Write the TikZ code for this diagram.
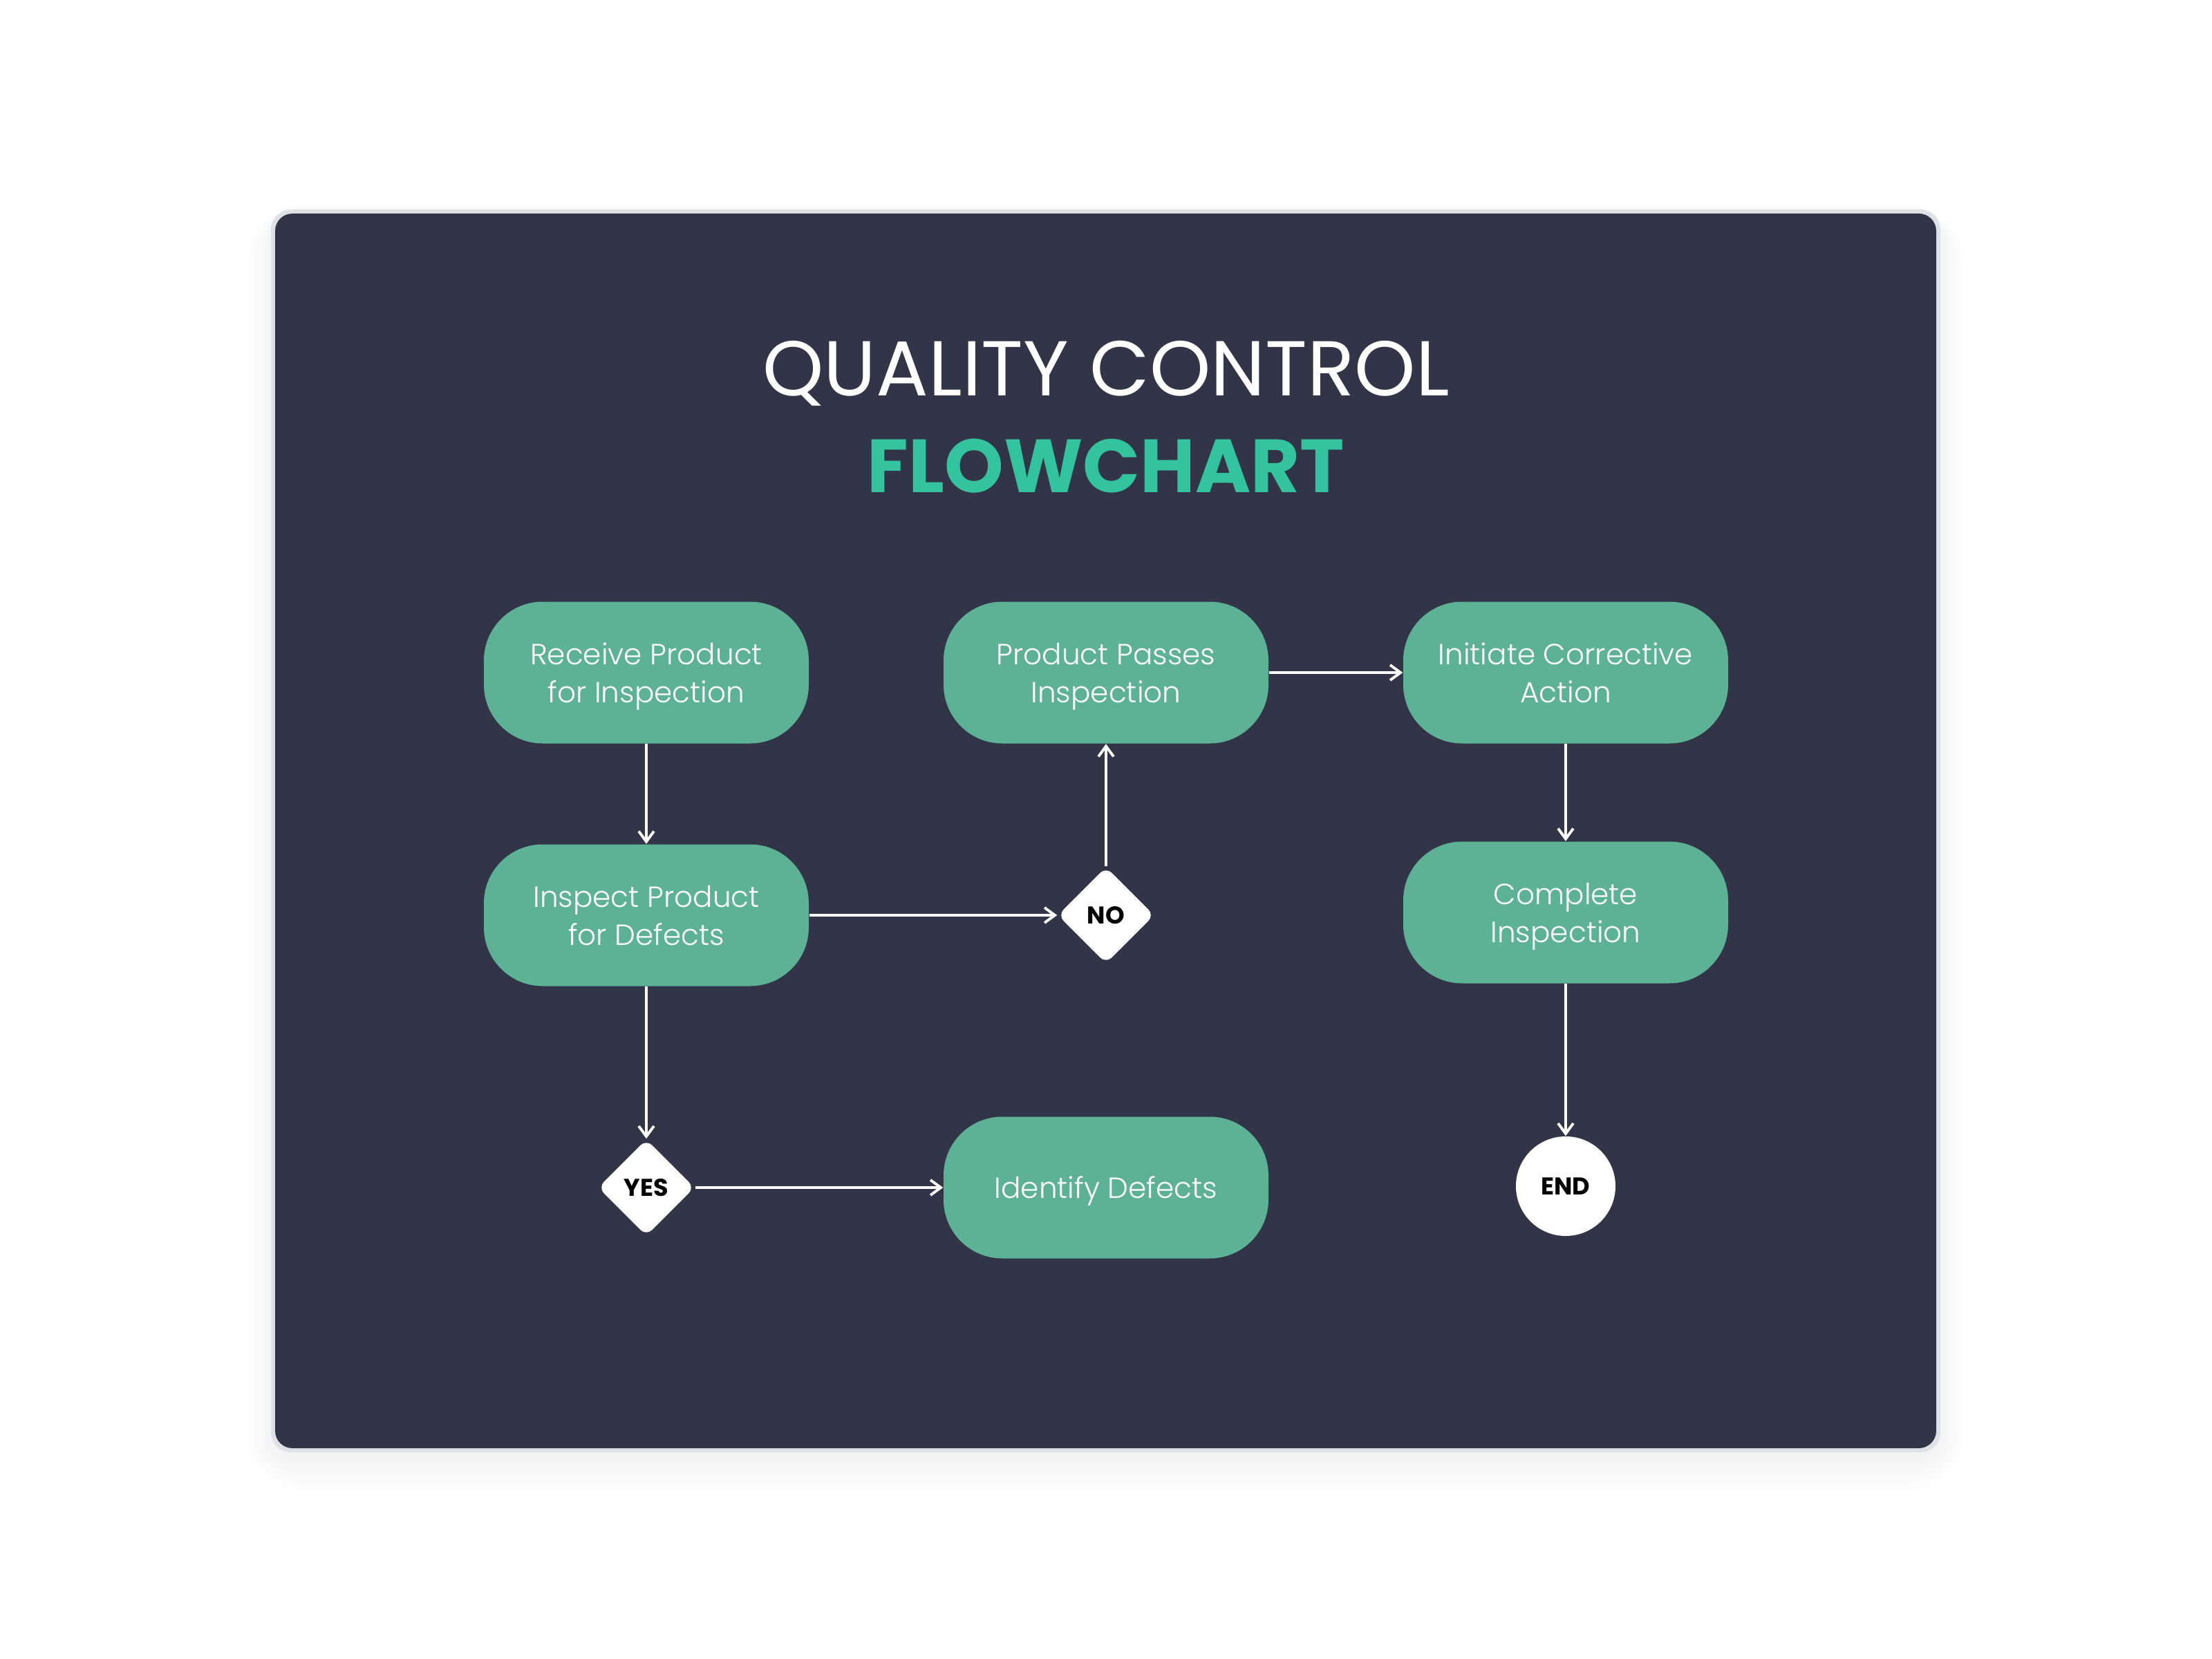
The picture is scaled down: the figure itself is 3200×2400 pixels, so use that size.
\documentclass[tikz,border=0pt]{standalone}
\usepackage{fontspec}
\setmainfont{Poppins}
\newfontfamily\lightfont{Poppins Light}
\usetikzlibrary{arrows.meta,shapes.geometric}
\definecolor{cardbg}{HTML}{323548}
\definecolor{boxfill}{HTML}{5DB296}
\definecolor{titleteal}{HTML}{33C49F}
\definecolor{cardline}{HTML}{E0E1E4}
\begin{document}
\begin{tikzpicture}[x=0.1mm,y=-0.1mm,
  proc/.style={rectangle, fill=boxfill, minimum width=47mm, minimum height=20.5mm, rounded corners=8.5mm, text=white, font=\lightfont\fontsize{12}{15.6}\selectfont, align=center, inner sep=0pt, text depth=0pt},
  dec/.style={diamond, fill=white, minimum size=14mm, aspect=1, inner sep=0pt, rounded corners=1.2mm, font=\fontsize{10}{12}\selectfont\bfseries, text=black},
  term/.style={circle, fill=white, minimum size=14.4mm, inner sep=0pt, font=\fontsize{10}{12}\selectfont\bfseries, text=black},
  flow/.style={draw=white, line width=1.1pt, -{Straight Barb[length=1.5mm,width=2.2mm]}}
]
\useasboundingbox (0,0) rectangle (3200,2400);
\fill[white] (0,0) rectangle (3200,2400);
% soft shadow
\foreach \i in {1,...,12}{
  \fill[black, opacity=0.005, rounded corners=2.5mm+\i*0.5mm] (398-\i*3.5,309-\i*2+10) rectangle (2801+\i*3.5,2095+\i*4.5+10);
}
\fill[cardline, rounded corners=2.9mm] (392,303) rectangle (2807,2101);
\fill[cardbg, rounded corners=2.5mm] (398,309) rectangle (2801,2095);

\node[font=\fontsize{32}{38}\selectfont, text=white] (t1) at (1600,540) {QUALITY CONTROL};
\node[font=\fontsize{31}{37}\selectfont\bfseries, text=titleteal] (t2) at (1600,674) {FLOWCHART};

\node[proc] (receive) at (935,973) {Receive Product\\for Inspection};
\node[proc] (passes) at (1600,973) {Product Passes\\Inspection};
\node[proc] (initiate) at (2265,973) {Initiate Corrective\\Action};
\node[proc] (inspect) at (935,1324) {Inspect Product\\for Defects};
\node[proc] (complete) at (2265,1320) {Complete\\Inspection};
\node[proc] (identify) at (1600,1718) {Identify Defects};
\node[dec] (no) at (1600,1324) {NO};
\node[dec] (yes) at (935,1718) {YES};
\node[term] (endnode) at (2265,1716) {END};

\draw[flow] (receive) -- (inspect);
\draw[flow] (inspect) -- (no);
\draw[flow] (no) -- (passes);
\draw[flow] (passes) -- (initiate);
\draw[flow] (initiate) -- (complete);
\draw[flow] (complete) -- (endnode);
\draw[flow] (inspect) -- (yes);
\draw[flow] (yes) -- (identify);
\end{tikzpicture}
\end{document}
